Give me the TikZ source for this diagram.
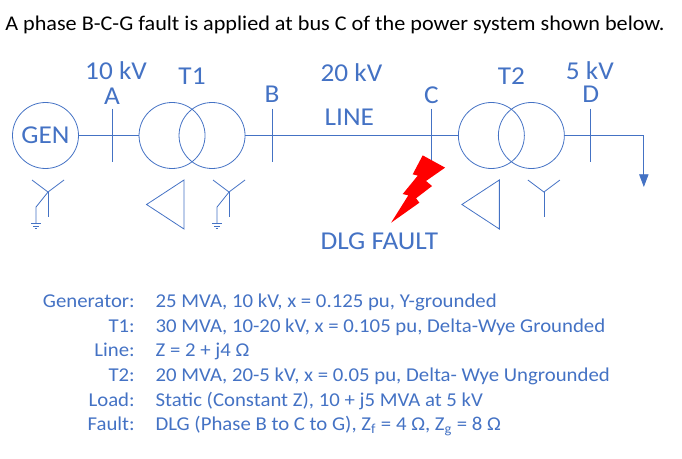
\documentclass[tikz,border=0pt]{standalone}
\usepackage{fontspec}
\setmainfont{Carlito}[FakeStretch=1.06]
\usetikzlibrary{positioning,arrows.meta}
\definecolor{oneline}{HTML}{4472C4}
\tikzset{
 sym/.style={draw=oneline,line width=0.6pt},
 bus/.style={inner sep=0pt,minimum width=0pt,minimum height=39.75pt},
 winding/.style={sym,circle,inner sep=0pt,minimum size=49.5pt},
 lbl/.style={text=oneline,font=\fontsize{19.3}{22}\selectfont,inner sep=0pt},
 rowname/.style={text=oneline,font=\fontsize{14.7}{17}\selectfont,inner sep=0pt,anchor=base east},
 rowtext/.style={text=oneline,font=\fontsize{14.7}{17}\selectfont,inner sep=0pt,anchor=base west},
 wye/.pic={
  \draw [sym] (-12pt,9pt) -- (0,0) -- (12pt,9pt);
  \draw [sym] (0,0) -- (0,-18.4pt);
 },
 gndwye/.pic={
  \draw [sym] (-12pt,9pt) -- (0,0) -- (12pt,9pt);
  \draw [sym] (0,0) -- (0,-18.4pt);
  \draw [sym] (0,0) -- (-9pt,-11.25pt) -- (-9pt,-23.6pt);
  \draw [sym] (-12.75pt,-23.6pt) -- (-5.25pt,-23.6pt);
  \draw [sym] (-11.2pt,-25.4pt) -- (-6.8pt,-25.4pt);
  \draw [sym] (-10pt,-27pt) -- (-8pt,-27pt);
 },
 delta/.pic={
  \draw [sym] (0,18.4pt) -- (0,-18.4pt) -- (-28.1pt,0) -- cycle;
 },
 bolt/.pic={
  \fill [red] (-6.5pt,-14.9pt) -- (10.3pt,-24.1pt) -- (-4pt,-34.1pt) -- (0.5pt,-37.9pt)
   -- (-11.5pt,-47.1pt) -- (-9pt,-50.4pt) -- (-30.2pt,-65.4pt) -- (-17.3pt,-44.9pt)
   -- (-21.5pt,-43.9pt) -- (-10.2pt,-30.1pt) -- (-14pt,-29.1pt) -- cycle;
 },
}
\begin{document}
\begin{tikzpicture}[on grid]
 \useasboundingbox (0,0) rectangle (511.5pt,343.5pt);
 \node [anchor=base west,inner sep=0pt,font=\fontsize{15.7}{18}\selectfont] (title) at (3.75pt,320.25pt) {A phase B-C-G fault is applied at bus C of the power system shown below.};
 % one-line diagram
 \node [winding,lbl,draw=oneline] (gen) at (34.125pt,241.875pt) {GEN};
 \node [bus,right=49.9pt of gen] (A) {};
 \node [winding,right=45pt of A] (T1a) {};
 \node [winding,right=30pt of T1a] (T1b) {};
 \node [bus,right=45pt of T1b] (B) {};
 \node [bus,right=119.5pt of B] (C) {};
 \node [winding,right=45pt of C] (T2a) {};
 \node [winding,right=30pt of T2a] (T2b) {};
 \node [bus,right=44.6pt of T2b] (D) {};
 \coordinate [right=39.75pt of D] (corner);
 \coordinate [below=38.6pt of corner] (load);
 \draw [sym] (gen) -- (T1a);
 \draw [sym] (T1b) -- (T2a);
 \draw [sym] (T2b) -- (corner);
 \draw [sym,-{Triangle[length=9.5pt,width=7pt]},fill=oneline] (corner) -- (load);
 \foreach \b in {A,B,C,D} {
  \draw [sym] (\b.north) -- (\b.south);
 }
 % winding connections
 \coordinate [below right=42.4pt and 1.9pt of gen] (Ygen);
 \coordinate [below right=42.4pt and 12.75pt of T1b] (Yt1);
 \coordinate [below right=51.75pt and 9pt of T1a] (Dt1);
 \coordinate [below right=51.75pt and 6pt of T2a] (Dt2);
 \coordinate [below right=42.4pt and 9.4pt of T2b] (Yt2);
 \pic at (Ygen) {gndwye};
 \pic at (Yt1) {gndwye};
 \pic at (Dt1) {delta};
 \pic at (Dt2) {delta};
 \pic at (Yt2) {wye};
 \pic at (C) {bolt};
 % labels
 \node [lbl,above=29.4pt of A] (Alab) {A};
 \node [lbl,above=31pt of B] (Blab) {B};
 \node [lbl,above=30.4pt of C] (Clab) {C};
 \node [lbl,above=30.8pt of D] (Dlab) {D};
 \node [lbl,above right=48.6pt and 3pt of A] (vA) {10 kV};
 \node [lbl,above right=44.6pt and 15pt of T1a] (T1lab) {T1};
 \node [lbl,above right=47.4pt and 59.5pt of B] (vL) {20 kV};
 \node [lbl,above right=14pt and 58pt of B] (line) {LINE};
 \node [lbl,above right=44.6pt and 15pt of T2a] (T2lab) {T2};
 \node [lbl,above left=48.6pt and 0.75pt of D] (vD) {5 kV};
 \node [lbl,below left=79pt and 39pt of C] (fault) {DLG FAULT};
 % data table
 \node [rowname] (r1) at (101.25pt,113pt) {Generator:};
 \node [rowname,below=18.5pt of r1.base east,anchor=base east] (r2) {T1:};
 \node [rowname,below=18.5pt of r2.base east,anchor=base east] (r3) {Line:};
 \node [rowname,below=18.5pt of r3.base east,anchor=base east] (r4) {T2:};
 \node [rowname,below=18.5pt of r4.base east,anchor=base east] (r5) {Load:};
 \node [rowname,below=18.5pt of r5.base east,anchor=base east] (r6) {Fault:};
 \node [rowtext,right=15.3pt of r1.base east,anchor=base west] (v1) {25 MVA, 10 kV, x = 0.125 pu, Y-grounded};
 \node [rowtext,right=15.3pt of r2.base east,anchor=base west] (v2) {30 MVA, 10-20 kV, x = 0.105 pu, Delta-Wye Grounded};
 \node [rowtext,right=15.3pt of r3.base east,anchor=base west] (v3) {Z = 2 + j4 Ω};
 \node [rowtext,right=15.3pt of r4.base east,anchor=base west] (v4) {20 MVA, 20-5 kV, x = 0.05 pu, Delta- Wye Ungrounded};
 \node [rowtext,right=15.3pt of r5.base east,anchor=base west] (v5) {Static (Constant Z), 10 + j5 MVA at 5 kV};
 \node [rowtext,right=15.3pt of r6.base east,anchor=base west] (v6) {DLG (Phase B to C to G), Z\textsubscript{f} = 4 Ω, Z\textsubscript{g} = 8 Ω};
\end{tikzpicture}
\end{document}
